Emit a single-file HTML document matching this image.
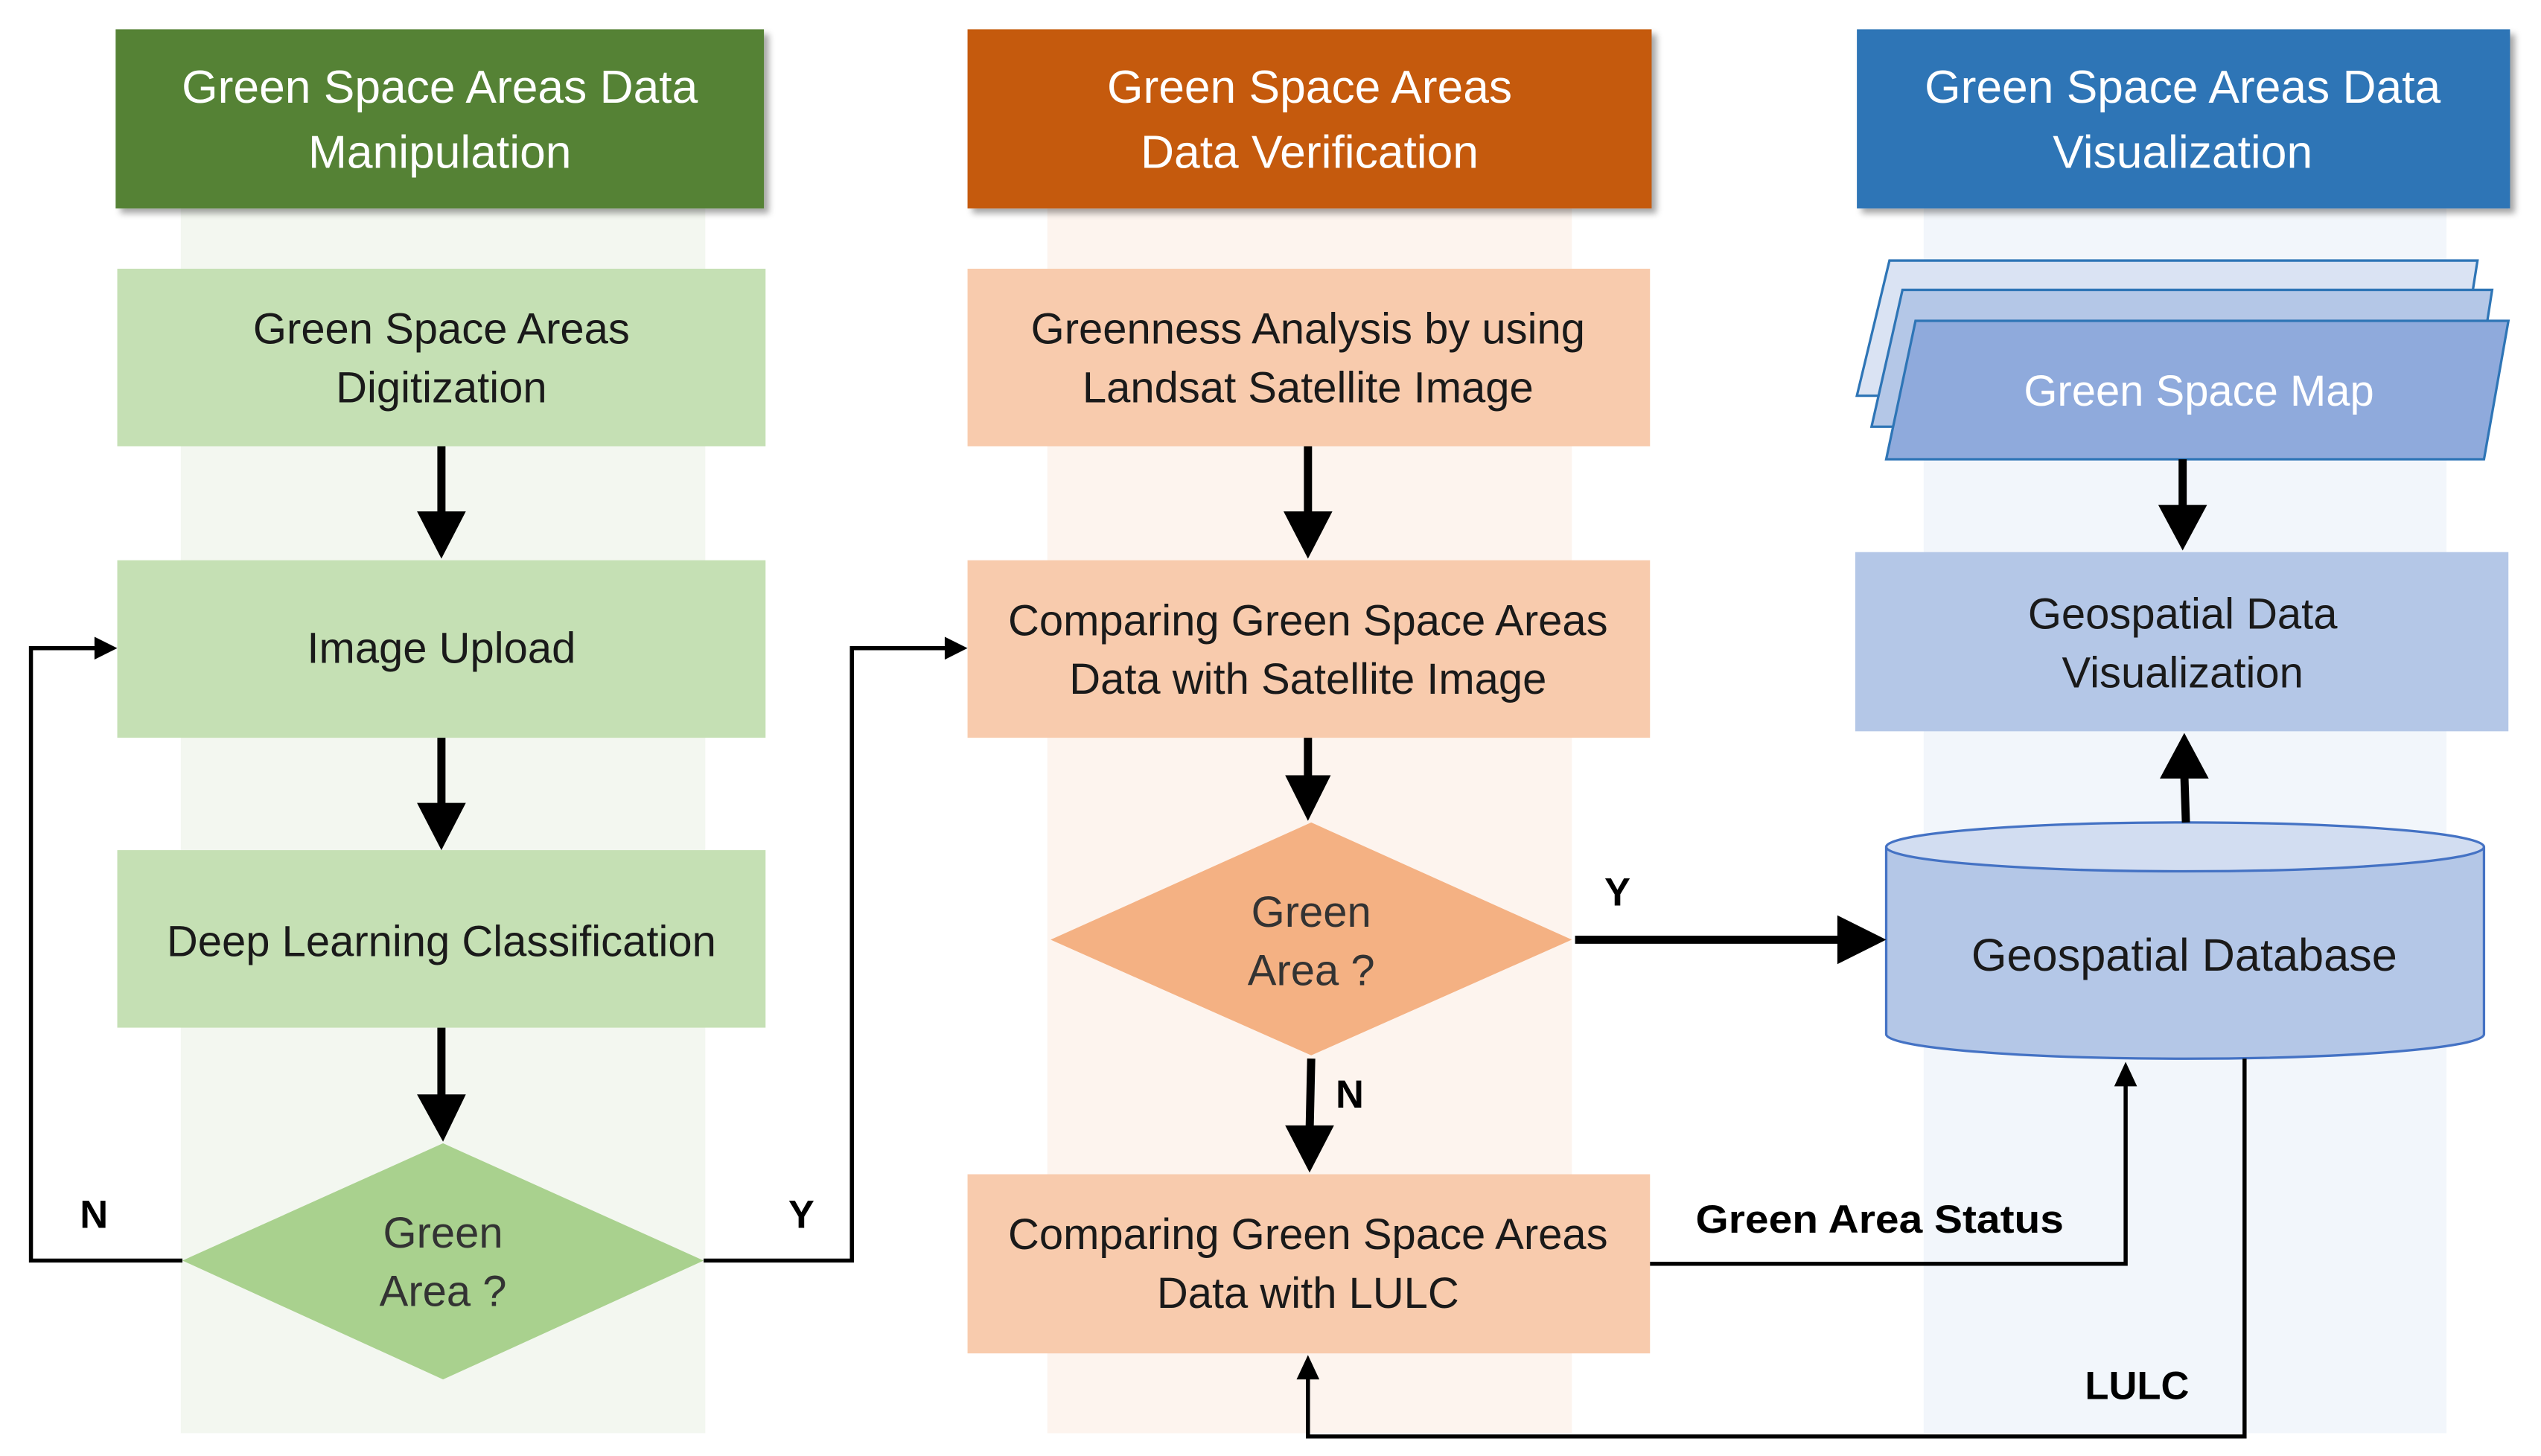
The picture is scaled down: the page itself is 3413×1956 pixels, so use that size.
<!DOCTYPE html>
<html><head><meta charset="utf-8"><style>
html,body{margin:0;padding:0;background:#fff;}
svg{display:block;}
text{font-family:"Liberation Sans",sans-serif;}
</style></head><body>
<svg width="3413" height="1956" viewBox="0 0 1560 894" preserveAspectRatio="none" xmlns="http://www.w3.org/2000/svg">
<defs>
<filter id="sh" x="-5%" y="-10%" width="115%" height="130%"><feDropShadow dx="3" dy="3" stdDeviation="2" flood-color="#000" flood-opacity="0.35"/></filter>
</defs>
<rect x="0" y="0" width="1560" height="894" fill="#fff"/>
<rect x="111" y="128" width="322" height="752" fill="#f3f7f0"/>
<rect x="643" y="128" width="322" height="752" fill="#fdf4ee"/>
<rect x="1181" y="128" width="321" height="752" fill="#f2f6fb"/>
<rect x="71" y="18" width="398" height="110" fill="#548235" filter="url(#sh)"/>
<rect x="594" y="18" width="420" height="110" fill="#c55a11" filter="url(#sh)"/>
<rect x="1140" y="18" width="401" height="110" fill="#2e75b6" filter="url(#sh)"/>
<g fill="#fff" font-size="28.5" text-anchor="middle">
<text x="270" y="63">Green Space Areas Data</text><text x="270" y="103">Manipulation</text>
<text x="804" y="63">Green Space Areas</text><text x="804" y="103">Data Verification</text>
<text x="1340" y="63">Green Space Areas Data</text><text x="1340" y="103">Visualization</text>
</g>
<g fill="#c5e0b4">
<rect x="72" y="165" width="398" height="109"/>
<rect x="72" y="344" width="398" height="109"/>
<rect x="72" y="522" width="398" height="109"/>
</g>
<polygon points="112,774 272,702 432,774 272,847" fill="#a9d18e"/>
<g fill="#f8cbad">
<rect x="594" y="165" width="419" height="109"/>
<rect x="594" y="344" width="419" height="109"/>
<rect x="594" y="721" width="419" height="110"/>
</g>
<polygon points="645,577 805,505 965,577 805,648" fill="#f4b183"/>
<polygon points="1160,160 1521,160 1508,243 1140,243" fill="#dae3f3" stroke="#2e75b6" stroke-width="1.5"/>
<polygon points="1168,178 1530,178 1517,262 1149,262" fill="#b4c7e7" stroke="#2e75b6" stroke-width="1.5"/>
<polygon points="1176,197 1540,197 1525,282 1158,282" fill="#8faadc" stroke="#2e75b6" stroke-width="1.5"/>
<rect x="1139" y="339" width="401" height="110" fill="#b4c7e7"/>
<path d="M1158,520 L1158,635 A183,15 0 0 0 1525,635 L1525,520" fill="#b4c7e7" stroke="#4472c4" stroke-width="1.5"/>
<ellipse cx="1341.5" cy="520" rx="183.5" ry="15" fill="#d2ddf1" stroke="#4472c4" stroke-width="1.5"/>
<g fill="#1a1a1a" font-size="26.5" text-anchor="middle">
<text x="271" y="211">Green Space Areas</text><text x="271" y="247">Digitization</text>
<text x="271" y="407">Image Upload</text>
<text x="271" y="587">Deep Learning Classification</text>
<text x="272" y="766" fill="#333">Green</text><text x="272" y="802" fill="#333">Area ?</text>
<text x="803" y="211">Greenness Analysis by using</text><text x="803" y="247">Landsat Satellite Image</text>
<text x="803" y="390">Comparing Green Space Areas</text><text x="803" y="426">Data with Satellite Image</text>
<text x="805" y="569" fill="#333">Green</text><text x="805" y="605" fill="#333">Area ?</text>
<text x="803" y="767">Comparing Green Space Areas</text><text x="803" y="803">Data with LULC</text>
<text x="1350" y="249" fill="#fff">Green Space Map</text>
<text x="1340" y="386">Geospatial Data</text><text x="1340" y="422">Visualization</text>
<text x="1341" y="596" font-size="28">Geospatial Database</text>
</g>
<g stroke="#000" stroke-width="5" fill="none">
<line x1="271" y1="274" x2="271" y2="318"/>
<line x1="271" y1="453" x2="271" y2="497"/>
<line x1="271" y1="631" x2="271" y2="676"/>
<line x1="803" y1="274" x2="803" y2="318"/>
<line x1="803" y1="453" x2="803" y2="480"/>
<line x1="805" y1="650" x2="804" y2="695"/>
<line x1="967" y1="577" x2="1130" y2="577"/>
<line x1="1340" y1="282" x2="1340" y2="313"/>
<line x1="1342" y1="505" x2="1341" y2="475"/>
</g>
<g fill="#000">
<polygon points="256,314 286,314 271,343"/>
<polygon points="256,493 286,493 271,522"/>
<polygon points="256,672 286,672 272,701"/>
<polygon points="788,314 818,314 803,343"/>
<polygon points="789,476 817,476 803,504"/>
<polygon points="789,691 819,691 804,720"/>
<polygon points="1128,562 1128,592 1158,577"/>
<polygon points="1325,310 1355,310 1340,338"/>
<polygon points="1326,478 1356,478 1341,450"/>
</g>
<g stroke="#000" stroke-width="2.5" fill="none">
<polyline points="112,774 19,774 19,398 60,398"/>
<polyline points="432,774 523,774 523,398 582,398"/>
<polyline points="1013,776 1305,776 1305,665"/>
<polyline points="1378,650 1378,882 803,882 803,845"/>
</g>
<g fill="#000">
<polygon points="58,391 72,398 58,405"/>
<polygon points="580,391 594,398 580,405"/>
<polygon points="1298,667 1312,667 1305,652"/>
<polygon points="796,847 810,847 803,832"/>
</g>
<g fill="#000" font-size="24" font-weight="bold">
<text x="49" y="754">N</text>
<text x="484" y="754">Y</text>
<text x="985" y="556">Y</text>
<text x="820" y="680">N</text>
<text x="1041" y="757" textLength="226" lengthAdjust="spacingAndGlyphs">Green Area Status</text>
<text x="1280" y="859">LULC</text>
</g>
</svg>
</body></html>
